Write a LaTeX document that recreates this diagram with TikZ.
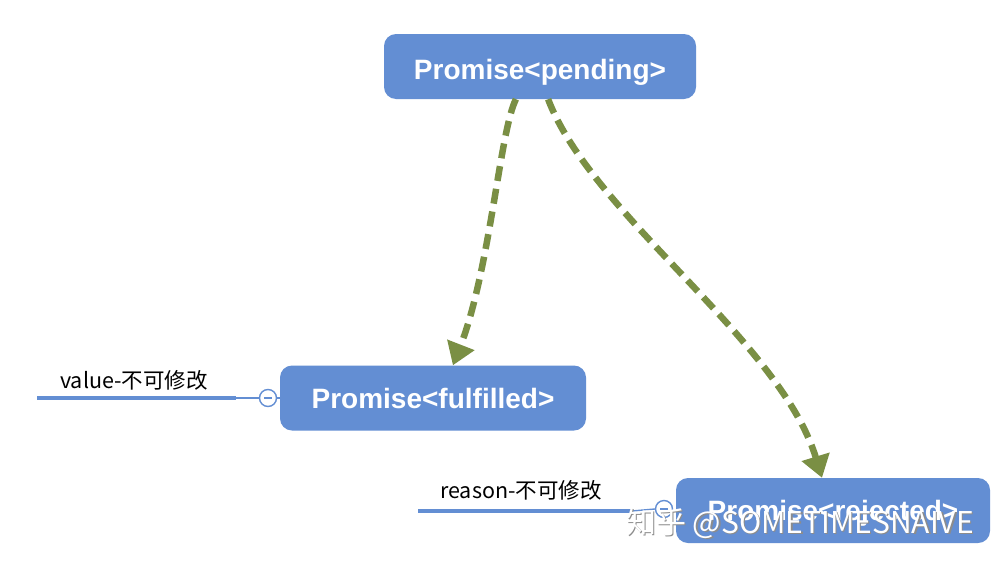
\documentclass[tikz,border=0pt]{standalone}
\usepackage{fontspec}
\setmainfont{Liberation Sans}
\newfontfamily\cjkfont{Noto Sans CJK SC}
\usetikzlibrary{arrows.meta,calc}
\definecolor{boxblue}{RGB}{99,142,211}
\definecolor{arrowgreen}{RGB}{122,143,68}
\tikzset{
  statebox/.style={fill=boxblue, draw=none, rounded corners=12pt, text=white,
    font=\bfseries\fontsize{28}{32}\selectfont, inner sep=0pt, text height=20pt, text depth=0pt},
  transition/.style={draw=arrowgreen, line width=6.5pt, dash pattern=on 15pt off 8pt,
    -{Triangle[length=22pt,width=28pt]}},
  attrline/.style={draw=boxblue, line width=4pt},
  thinline/.style={draw=boxblue, line width=1.4pt},
  collapser/.style={circle, draw=boxblue, fill=white, line width=1.4pt, minimum size=17pt, inner sep=0pt},
  attrlabel/.style={font=\cjkfont\fontsize{21.5}{24}\selectfont, text=black, anchor=base west, inner sep=0pt},
}
\begin{document}
\begin{tikzpicture}[x=1pt,y=-1pt]
\useasboundingbox (0,0) rectangle (1000,562);
\fill[white] (0,0) rectangle (1000,562);

\node[statebox, minimum width=312pt, minimum height=65pt] (pending) at (540,66.5) {\raisebox{-2.5pt}{Promise<pending>}};
\node[statebox, minimum width=306pt, minimum height=65pt] (fulfilled) at (433,398) {Promise<fulfilled>};
\node[statebox, minimum width=314pt, minimum height=65pt] (rejected) at (833,510.5) {Promise<rejected>};

% value branch
\node[collapser] (vcirc) at (268,398) {};
\draw[boxblue, line width=1.2pt] ($(vcirc.center)+(-4,0)$) -- ($(vcirc.center)+(4,0)$);
\coordinate (vthick) at (37,398);
\coordinate (vjoin) at (236,398);
\draw[thinline] (vjoin) -- (vcirc.west);
\draw[thinline] (vcirc.east) -- (fulfilled.west);
\draw[attrline] (vthick) -- (vjoin);
\node[attrlabel] (vlabel) at (60,388) {value-不可修改};

% reason branch
\node[collapser] (rcirc) at (664,509) {};
\draw[boxblue, line width=1.2pt] ($(rcirc.center)+(-4,0)$) -- ($(rcirc.center)+(4,0)$);
\coordinate (rthick) at (418,511);
\coordinate (rjoin) at (632,511);
\draw[thinline] (rjoin) -- (rcirc.west);
\draw[attrline] (rthick) -- (rjoin);
\node[attrlabel] (rlabel) at (440,498) {reason-不可修改};

% transitions
\coordinate (ls) at ($(pending.south west)!0.423!(pending.south east)$);
\coordinate (le) at ($(fulfilled.north west)!0.565!(fulfilled.north east)$);
\draw[transition] (ls) .. controls (500,130) and (490,270) .. (le);
\coordinate (rs) at ($(pending.south west)!0.526!(pending.south east)$);
\coordinate (re) at ($(rejected.north west)!0.465!(rejected.north east)$);
\draw[transition] (rs) .. controls (592,215) and (780,340) .. (re);

% watermark
\node[font=\cjkfont\fontsize{30}{32}\selectfont, text=black!45, anchor=base west, inner sep=0pt] (wmshadow) at (627.2,534.2) {知乎 @SOMETIMESNAIVE};
\node[font=\cjkfont\fontsize{30}{32}\selectfont, text=white, anchor=base west, inner sep=0pt] (watermark) at (626,533) {知乎 @SOMETIMESNAIVE};
\end{tikzpicture}
\end{document}
